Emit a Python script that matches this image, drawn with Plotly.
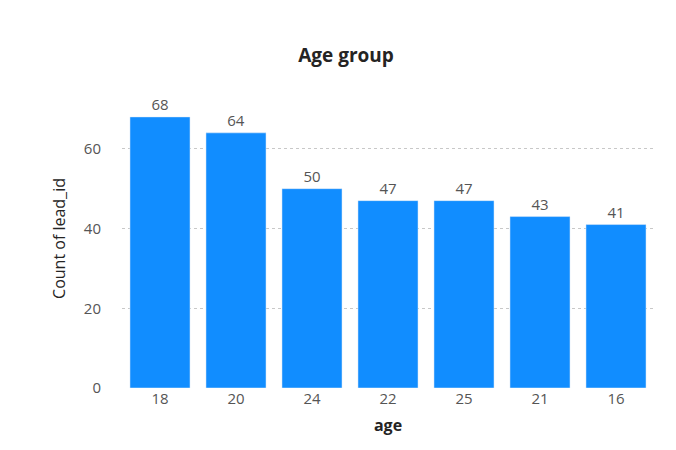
import plotly.graph_objects as go

ages = ["18", "20", "24", "22", "25", "21", "16"]
counts = [68, 64, 50, 47, 47, 43, 41]

fig = go.Figure(go.Bar(
    x=ages, y=counts, marker_color="#118DFF", width=0.79,
    text=counts, textposition="outside", cliponaxis=False,
    textfont=dict(size=15, color="#555555", family="Open Sans"),
))
fig.update_layout(
    width=676, height=450, plot_bgcolor="white", paper_bgcolor="white",
    margin=dict(l=114, r=30, t=81, b=70),
    title=dict(text="<b>Age group</b>", x=0.5, xanchor="center", y=0.895, yanchor="middle",
               font=dict(size=19, color="#252423", family="Open Sans")),
    font=dict(family="Open Sans", color="#555555"),
    showlegend=False,
)
fig.update_xaxes(title=dict(text="<b>age</b>", font=dict(size=16, color="#252423"), standoff=12),
                 tickfont=dict(size=15, color="#555555"), showline=False, ticks="")
fig.update_yaxes(range=[0, 75], tickvals=[0, 20, 40, 60],
                 title=dict(text="Count of lead_id", font=dict(size=16, color="#252423"), standoff=14),
                 tickfont=dict(size=15, color="#555555"), ticklabelstandoff=20,
                 showgrid=True, gridcolor="#C8C8C8", griddash="dot", gridwidth=1,
                 zeroline=False, ticks="")
fig.write_html("out.html")
